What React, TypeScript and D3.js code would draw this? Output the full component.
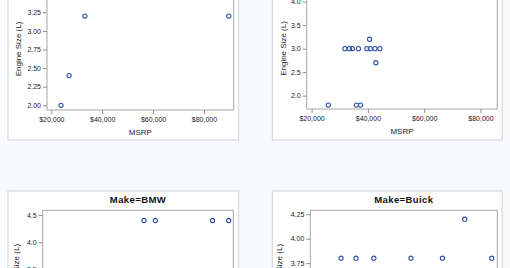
import React, { useEffect, useRef } from 'react';
import * as d3 from 'd3';

// values (MSRP in dollars, engine size in litres)
const acuraMsrp = [23820, 26990, 33195, 89765];
const acuraEngine = [2.0, 2.4, 3.2, 3.2];
const audiMsrp = [25940, 35940, 37390, 31840, 33430, 34480, 36640, 39640, 40840, 42490, 44240, 42840, 40590];
const audiEngine = [1.8, 1.8, 1.8, 3.0, 3.0, 3.0, 3.0, 3.0, 3.0, 3.0, 3.0, 2.7, 3.2];
const bmwMsrp = [52195, 54995, 69195, 73195];
const bmwEngine = [4.4, 4.4, 4.4, 4.4];
const buickMsrp = [24895, 26470, 28345, 32245, 35545, 40720, 37895];
const buickEngine = [3.8, 3.8, 3.8, 3.8, 3.8, 3.8, 4.2];

// axis ranges and ticks
const acuraX = [18300, 91700];
const acuraY = [1.937, 3.577];
const audiX = [18260, 85970];
const audiY = [1.717, 4.29];
const bmwX = [27080, 74340];
const bmwY = [2.356, 4.586];
const buickX = [21670, 41310];
const buickY = [3.041, 4.291];
const msrpTicks = [20000, 40000, 60000, 80000];
const acuraYTicks = [2.0, 2.25, 2.5, 2.75, 3.0, 3.25, 3.5];
const audiYTicks = [2.0, 2.5, 3.0, 3.5, 4.0];
const bmwYTicks = [2.5, 3.0, 3.5, 4.0, 4.5];
const buickYTicks = [3.25, 3.5, 3.75, 4.0, 4.25];

const FONT = '"Liberation Sans", Arial, sans-serif';
const MARKER = '#2f52a8';

const panels = [
  { title: 'Make=Acura', msrp: acuraMsrp, engine: acuraEngine, xd: acuraX, yd: acuraY, yTicks: acuraYTicks, yFmt: '.2f',
    box: [8, -31, 238.7, 140], plot: [47, -12, 233.7, 110], yTitleX: 18.5 },
  { title: 'Make=Audi', msrp: audiMsrp, engine: audiEngine, xd: audiX, yd: audiY, yTicks: audiYTicks, yFmt: '.1f',
    box: [272.3, -31, 502.2, 140], plot: [306.7, -12, 497.3, 109], yTitleX: 283 },
  { title: 'Make=BMW', msrp: bmwMsrp, engine: bmwEngine, xd: bmwX, yd: bmwY, yTicks: bmwYTicks, yFmt: '.1f',
    box: [8, 191, 238.7, 370], plot: [42.7, 210.3, 233.3, 332.3], yTitleX: 16.5 },
  { title: 'Make=Buick', msrp: buickMsrp, engine: buickEngine, xd: buickX, yd: buickY, yTicks: buickYTicks, yFmt: '.2f',
    box: [272.3, 191, 502.2, 370], plot: [310.3, 210.3, 497.3, 332.3], yTitleX: 279.5 },
];

function Panel({ p }) {
  const axisX = useRef(null);
  const axisY = useRef(null);
  const [px0, py0, px1, py1] = p.plot;
  const [bx0, by0, bx1, by1] = p.box;

  const x = d3.scaleLinear().domain(p.xd).range([px0, px1]);
  const y = d3.scaleLinear().domain(p.yd).range([py1, py0]);

  useEffect(() => {
    const styleAxis = g => {
      g.select('.domain').remove();
      g.selectAll('line').attr('stroke', '#8c8c8c');
      g.selectAll('text').attr('fill', '#222').style('font-family', FONT).style('font-size', '7px');
    };
    d3.select(axisX.current)
      .call(d3.axisBottom(x).tickValues(msrpTicks).tickFormat(d3.format('$,')).tickSize(4).tickPadding(3))
      .call(styleAxis);
    d3.select(axisY.current)
      .call(d3.axisLeft(y).tickValues(p.yTicks).tickFormat(d3.format(p.yFmt)).tickSize(4).tickPadding(2))
      .call(styleAxis);
  });

  const yMid = (py0 + py1) / 2;

  return (
    <g>
      <rect x={bx0} y={by0} width={bx1 - bx0} height={by1 - by0} fill="#fff" stroke="#d2d2d2" strokeWidth={1} />
      <text x={(px0 + px1) / 2} y={py0 - 7} textAnchor="middle" fontFamily={FONT} fontWeight="bold" fontSize={9.5}
        letterSpacing={0.4} fill="#111">
        {p.title}
      </text>
      <g ref={axisX} transform={`translate(0,${py1})`} />
      <g ref={axisY} transform={`translate(${px0},0)`} />
      <rect x={px0} y={py0} width={px1 - px0} height={py1 - py0} fill="none" stroke="#a3a6aa" strokeWidth={1} />
      {p.msrp.map((m, i) => (
        <circle key={i} cx={x(m)} cy={y(p.engine[i])} r={2.1} fill="none" stroke={MARKER} strokeWidth={1.1} />
      ))}
      <text x={(px0 + px1) / 2} y={py1 + 24.6} textAnchor="middle" fontFamily={FONT} fontSize={8} fill="#222">
        MSRP
      </text>
      <text transform={`translate(${p.yTitleX},${yMid}) rotate(-90)`} textAnchor="middle" dy="0.35em"
        fontFamily={FONT} fontSize={8} fill="#222">
        Engine Size (L)
      </text>
    </g>
  );
}

export default function App() {
  return (
    <div style={{ position: 'fixed', left: 0, top: 0, width: 510, height: 268, overflow: 'hidden' }}>
      <svg width={510} height={268} viewBox="0 0 510 268" style={{ display: 'block', background: '#f9fafe' }}>
        {panels.map(p => (
          <Panel key={p.title} p={p} />
        ))}
      </svg>
    </div>
  );
}
